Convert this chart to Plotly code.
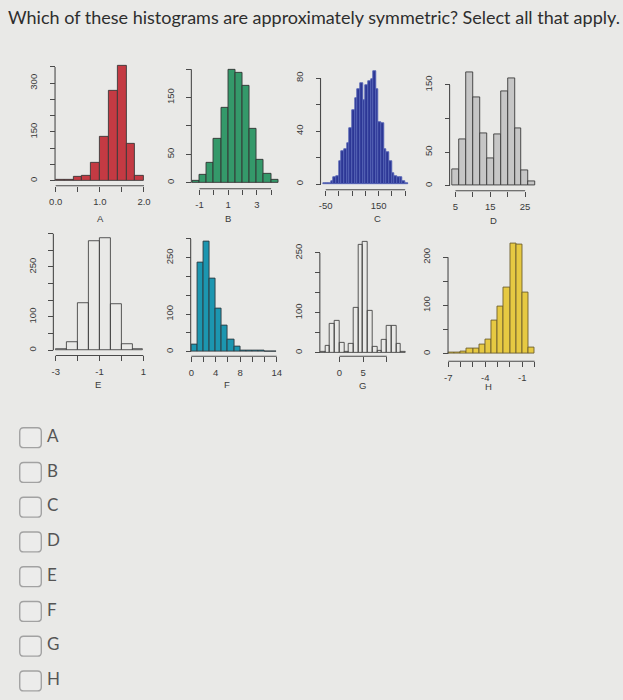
import plotly.graph_objects as go

W, H = 623, 700

# ---------------- data ----------------
TITLE = "Which of these histograms are approximately symmetric? Select all that apply."
OPTIONS = ["A", "B", "C", "D", "E", "F", "G", "H"]

A_start, A_width = 0.0, 0.2
A_counts = [2, 2, 13, 16, 55, 134, 275, 352, 113, 15]
A_xticks = [0.0, 0.5, 1.0, 1.5, 2.0]
A_xlabels = ["0.0", "", "1.0", "", "2.0"]
A_yticks = [0, 50, 100, 150, 200, 250, 300, 350]
A_ylabels = ["0", "", "", "150", "", "", "300", ""]

B_start, B_width = -1.5, 0.5
B_counts = [4, 14, 36, 78, 132, 199, 194, 170, 95, 40, 16, 5]
B_xticks = [-1, 0, 1, 2, 3, 4]
B_xlabels = ["-1", "", "1", "", "3", ""]
B_yticks = [0, 50, 100, 150, 200]
B_ylabels = ["0", "50", "", "150", ""]

C_start, C_width = -60, 10
C_counts = [1, 1, 1, 2, 5, 6, 17, 25, 26, 31, 42, 56, 65, 72, 76, 63,
            75, 78, 79, 85, 72, 47, 46, 26, 24, 17, 8, 6, 5, 5, 2, 1]
C_xticks = [-50, 0, 50, 100, 150, 200, 250]
C_xlabels = ["-50", "", "", "", "150", "", ""]
C_yticks = [0, 20, 40, 60, 80]
C_ylabels = ["0", "", "40", "", "80"]

D_start, D_width = 4, 2
D_counts = [25, 69, 168, 132, 78, 40, 77, 140, 160, 85, 23, 6]
D_xticks = [5, 10, 15, 20, 25]
D_xlabels = ["5", "", "15", "", "25"]
D_yticks = [0, 50, 100, 150]
D_ylabels = ["0", "50", "", "150"]

E_start, E_width = -3, 0.5
E_counts = [2, 25, 142, 327, 337, 139, 18, 2]
E_xticks = [-3, -2, -1, 0, 1]
E_xlabels = ["-3", "", "-1", "", "1"]
E_yticks = [0, 50, 100, 150, 200, 250, 300, 350]
E_ylabels = ["0", "", "100", "", "", "250", "", ""]

F_start, F_width = 0, 1
F_counts = [19, 237, 293, 195, 115, 69, 32, 13, 4, 3, 3, 2, 1, 1]
F_xticks = [0, 2, 4, 6, 8, 10, 12, 14]
F_xlabels = ["0", "", "4", "", "8", "", "", "14"]
F_yticks = [0, 50, 100, 150, 200, 250, 300]
F_ylabels = ["0", "", "100", "", "", "250", ""]

G_start, G_width = -4, 1
G_counts = [3, 17, 72, 81, 25, 3, 23, 112, 271, 277, 106, 14, 6, 33, 67, 67, 22, 3]
G_xticks = [0, 5, 10]
G_xlabels = ["0", "5", ""]
G_yticks = [0, 50, 100, 150, 200, 250]
G_ylabels = ["0", "", "100", "", "", "250"]

H_start, H_width = -7, 0.5
H_counts = [2, 2, 5, 10, 10, 19, 30, 70, 97, 137, 228, 226, 126, 12]
H_xticks = [-7, -6, -5, -4, -3, -2, -1, 0]
H_xlabels = ["-7", "", "", "-4", "", "", "-1", ""]
H_yticks = [0, 50, 100, 150, 200]
H_ylabels = ["0", "", "100", "", "200"]

# ---------------- layout / style ----------------
BG = "#e9e9e7"
AX = "#4a4a4a"
TICKFONT = dict(family="Liberation Sans, Arial, sans-serif", size=9.5, color="#3a3a3a")

panels = [
    # name, start, width, counts, fill, outline, xt, xl, yt, yl, xmap, ymap, yaxis_px, xaxis_py, label_pos
    ("A", A_start, A_width, A_counts, "#c43a43", "#3a3a3a", A_xticks, A_xlabels, A_yticks, A_ylabels,
     ((0.0, 50.7), (2.0, 140.7)), ((0, 181), (350, 67)), 50, 186, (96, 219)),
    ("B", B_start, B_width, B_counts, "#34996a", "#333333", B_xticks, B_xlabels, B_yticks, B_ylabels,
     ((-1, 197.3), (3, 255.7)), ((0, 183), (200, 69.3)), 189, 189, (226.3, 219)),
    ("C", C_start, C_width, C_counts, "#2c3795", "#5563b5", C_xticks, C_xlabels, C_yticks, C_ylabels,
     ((-50, 326), (150, 380)), ((0, 184.3), (80, 78.3)), 320.7, 190, (378.3, 219)),
    ("D", D_start, D_width, D_counts, "#c6c6c6", "#3a3a3a", D_xticks, D_xlabels, D_yticks, D_ylabels,
     ((5, 458.3), (25, 529.3)), ((0, 186), (150, 85)), 452.3, 191, (496.7, 220.7)),
    ("E", E_start, E_width, E_counts, "rgba(0,0,0,0)", "#454545", E_xticks, E_xlabels, E_yticks, E_ylabels,
     ((-3, 50.7), (1, 140)), ((0, 350.7), (350, 234)), 48.3, 356, (94, 385)),
    ("F", F_start, F_width, F_counts, "#1c96b0", "#2f3a3f", F_xticks, F_xlabels, F_yticks, F_ylabels,
     ((0, 189), (14, 276)), ((0, 352.3), (300, 239.3)), 188.3, 356.7, (225.7, 385)),
    ("G", G_start, G_width, G_counts, "rgba(0,0,0,0)", "#454545", G_xticks, G_xlabels, G_yticks, G_ylabels,
     ((0, 340), (10, 388.3)), ((0, 353.3), (250, 253.3)), 320, 356.7, (363.3, 385.7)),
    ("H", H_start, H_width, H_counts, "#e6c942", "#6e6030", H_xticks, H_xlabels, H_yticks, H_ylabels,
     ((-7, 451), (0, 539)), ((0, 354.3), (200, 257.7)), 450.7, 361.7, (491.7, 386.7)),
]

fig = go.Figure()
layout_axes = {}
shapes = []
annotations = []

for i, (name, start, width, counts, fill, outline, xt, xl, yt, yl,
        xmap, ymap, yaxis_px, xaxis_py, lab) in enumerate(panels, start=1):
    sfx = "" if i == 1 else str(i)
    xname, yname = "x" + sfx, "y" + sfx
    centers = [start + width * (k + 0.5) for k in range(len(counts))]

    (xv0, xp0), (xv1, xp1) = xmap
    bx = (xp1 - xp0) / (xv1 - xv0)
    px = lambda v: xp0 + (v - xv0) * bx
    lo = min(start, xt[0])
    hi = max(start + width * len(counts), xt[-1])
    pad = 0.01 * (hi - lo)
    r0, r1 = lo - pad, hi + pad

    (yv0, yp0), (yv1, yp1) = ymap
    by = (yp0 - yp1) / (yv1 - yv0)
    py = lambda v: yp0 - (v - yv0) * by
    ytop = max(max(counts), yt[-1]) * 1.03
    ylo = -0.006 * ytop

    fig.add_trace(go.Bar(
        x=centers, y=counts, width=[width] * len(counts),
        marker=dict(color=fill, line=dict(color=outline, width=0.9)),
        xaxis=xname, yaxis=yname, showlegend=False, hoverinfo="x+y",
    ))

    layout_axes["xaxis" + sfx] = dict(
        domain=[px(r0) / W, px(r1) / W], range=[r0, r1],
        anchor="free", position=1 - xaxis_py / H,
        tickmode="array", tickvals=xt, ticktext=xl,
        ticks="outside", ticklen=5, tickwidth=1.1, tickcolor=AX,
        showline=False, showgrid=False, zeroline=False,
        tickfont=TICKFONT, ticklabelstandoff=2, fixedrange=True,
    )
    layout_axes["yaxis" + sfx] = dict(
        domain=[1 - py(ylo) / H, 1 - py(ytop) / H], range=[ylo, ytop],
        anchor="free", position=yaxis_px / W,
        tickmode="array", tickvals=yt, ticktext=yl, tickangle=-90,
        ticks="outside", ticklen=5, tickwidth=1.1, tickcolor=AX,
        showline=False, showgrid=False, zeroline=False,
        tickfont=TICKFONT, ticklabelstandoff=9, fixedrange=True,
    )
    # R-style axis lines spanning first..last tick
    shapes.append(dict(type="line", xref=xname, yref="paper",
                       x0=xt[0], x1=xt[-1], y0=1 - xaxis_py / H, y1=1 - xaxis_py / H,
                       line=dict(color=AX, width=1.1)))
    shapes.append(dict(type="line", xref="paper", yref=yname,
                       x0=yaxis_px / W, x1=yaxis_px / W, y0=yt[0], y1=yt[-1],
                       line=dict(color=AX, width=1.1)))
    annotations.append(dict(text=name, xref="paper", yref="paper",
                            x=lab[0] / W, y=1 - lab[1] / H, showarrow=False,
                            xanchor="center", yanchor="middle",
                            font=dict(family="Liberation Sans, Arial, sans-serif", size=9.5, color="#3a3a3a")))

# question title
annotations.append(dict(text=TITLE, xref="paper", yref="paper", x=0, y=1 - 17 / H,
                        xanchor="left", yanchor="middle", showarrow=False,
                        font=dict(family="Lato, sans-serif", size=18, color="#2e2e2e")))


# checkboxes
def rrect(x0, y0, x1, y1, r):
    X = lambda v: v / W
    Y = lambda v: 1 - v / H
    return (f"M {X(x0 + r)},{Y(y0)} L {X(x1 - r)},{Y(y0)} Q {X(x1)},{Y(y0)} {X(x1)},{Y(y0 + r)} "
            f"L {X(x1)},{Y(y1 - r)} Q {X(x1)},{Y(y1)} {X(x1 - r)},{Y(y1)} "
            f"L {X(x0 + r)},{Y(y1)} Q {X(x0)},{Y(y1)} {X(x0)},{Y(y1 - r)} "
            f"L {X(x0)},{Y(y0 + r)} Q {X(x0)},{Y(y0)} {X(x0 + r)},{Y(y0)} Z")


for k, opt in enumerate(OPTIONS):
    cy = 438.3 + 34.8 * k
    shapes.append(dict(type="path", xref="paper", yref="paper",
                       path=rrect(14, cy - 10, 36, cy + 10, 4),
                       line=dict(color="#a2a2a2", width=1.4), fillcolor="#ececeb"))
    annotations.append(dict(text=opt, xref="paper", yref="paper", x=40 / W, y=1 - (cy - 2.4) / H,
                            xanchor="left", yanchor="middle", showarrow=False,
                            font=dict(family="Lato, sans-serif", size=17, color="#555555")))

fig.update_layout(
    width=W, height=H, autosize=False,
    margin=dict(l=0, r=0, t=0, b=0, pad=0),
    paper_bgcolor=BG, plot_bgcolor="rgba(0,0,0,0)",
    shapes=shapes, annotations=annotations, bargap=0,
    **layout_axes,
)

fig.write_html("out.html")
